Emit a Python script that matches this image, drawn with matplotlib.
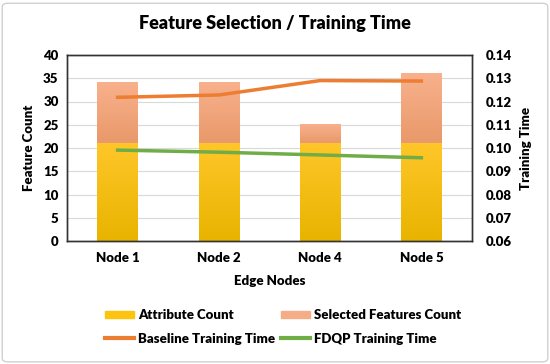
import matplotlib.pyplot as plt
import numpy as np
from matplotlib.patches import FancyBboxPatch, Patch
from matplotlib.lines import Line2D

plt.rcParams['font.family'] = ['Lato', 'DejaVu Sans']

# data
nodes = ['Node 1', 'Node 2', 'Node 4', 'Node 5']
attribute_count = [21, 21, 21, 21]
selected_extra = [13, 13, 4, 15]   # stacked on top of attribute count
baseline_time = [0.1218, 0.1228, 0.1290, 0.1288]
fdqp_time = [0.0991, 0.0982, 0.0970, 0.0958]

fig = plt.figure(figsize=(5.5, 3.64), dpi=100)
fig.patches.append(FancyBboxPatch((0.004, 0.006), 0.992, 0.985, boxstyle='round,pad=0,rounding_size=0.01',
                                  transform=fig.transFigure, fill=False, edgecolor='#d0d0d0', lw=1))
ax = fig.add_axes([67/550, 1-241/364, 405/550, 186/364])
ax2 = ax.twinx()

x = np.arange(len(nodes))
w = 0.4
ax.grid(axis='y', color='#d9d9d9', lw=0.8)
ax.set_axisbelow(True)

def rgb(h):
    h = h.lstrip('#')
    return [int(h[i:i+2], 16)/255 for i in (0, 2, 4)]

# gradient bars
def grad_bar(xc, y0, y1, c_top, c_bot):
    t = np.linspace(0, 1, 64)[:, None]
    img = (np.array(c_bot)[None, :] * (1 - t) + np.array(c_top)[None, :] * t)[:, None, :]
    ax.imshow(img, extent=[xc - w/2, xc + w/2, y0, y1], origin='lower', aspect='auto', zorder=2)

for i in x:
    a = attribute_count[i]
    s = selected_extra[i]
    grad_bar(i, 0, a, rgb('#ffc629'), rgb('#e8b400'))
    grad_bar(i, a, a + s, rgb('#f8b18c'), rgb('#e9996a'))
ax.set_xlim(-0.5, len(nodes) - 0.5)
ax.set_ylim(0, 40)
ax.set_yticks(range(0, 41, 5))

ax2.set_ylim(0.06, 0.14)
ticks2 = np.arange(0.06, 0.141, 0.01)
ax2.set_yticks(ticks2)
ax2.set_yticklabels([f'{v:.2f}' for v in ticks2])
ax2.plot(x, baseline_time, color='#ed7d31', lw=2.5, zorder=3)
ax2.plot(x, fdqp_time, color='#70ad47', lw=2.5, zorder=3)

ax.set_xticks(x)
ax.set_xticklabels(nodes)
for a_ in (ax, ax2):
    a_.tick_params(length=0, labelsize=9.5)
    for sp in a_.spines.values():
        sp.set_color('#333333')
        sp.set_linewidth(1)
for lab in ax.get_xticklabels() + ax.get_yticklabels() + ax2.get_yticklabels():
    lab.set_fontweight('heavy')
ax.tick_params(axis='x', pad=8)
ax.tick_params(axis='y', pad=6)
ax2.tick_params(axis='y', pad=10)

ax.set_xlabel('Edge Nodes', fontweight='heavy', fontsize=9.5, labelpad=8)
ax.set_ylabel('Feature Count', fontweight='heavy', fontsize=9.5, labelpad=6)
ax2.set_ylabel('Training Time', fontweight='heavy', fontsize=9.5, labelpad=6)
fig.text(0.5, 1 - 24/364, 'Feature Selection / Training Time', ha='center', va='center',
         fontsize=13, fontweight='heavy')

handles = [Patch(color='#fcc30f'), Patch(color='#f5ad88'),
           Line2D([], [], color='#ed7d31', lw=3), Line2D([], [], color='#70ad47', lw=3)]
labels = ['Attribute Count', 'Selected Features Count', 'Baseline Training Time', 'FDQP Training Time']
order = [0, 2, 1, 3]
leg = fig.legend([handles[i] for i in order], [labels[i] for i in order], ncol=2,
                 loc='center', bbox_to_anchor=(0.515, 1 - 327/364), frameon=False,
                 prop={'weight': 'heavy', 'size': 9.5}, handlelength=2.2, handleheight=0.5,
                 columnspacing=0.4, labelspacing=0.85, handletextpad=0.3)

fig.savefig('out.png', dpi=100)
